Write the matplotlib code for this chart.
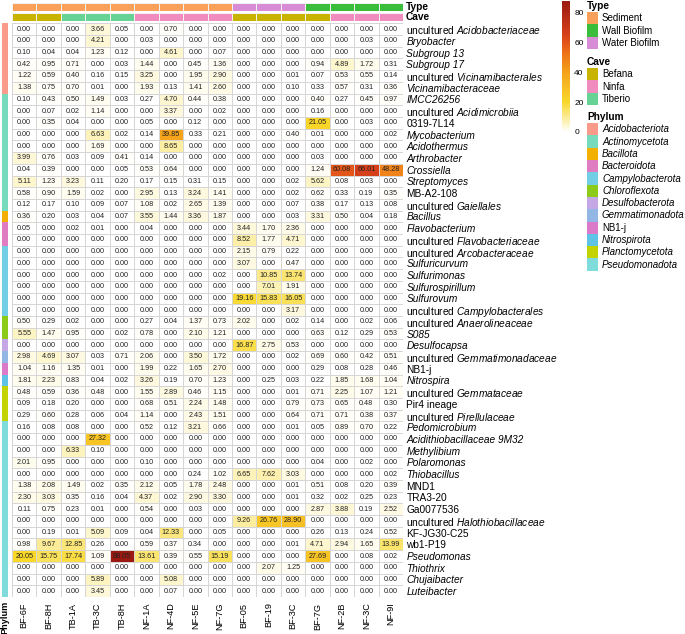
import numpy as np
import matplotlib
matplotlib.use("Agg")
import matplotlib.pyplot as plt
from matplotlib.colors import LinearSegmentedColormap, ListedColormap
from matplotlib.patches import Rectangle

plt.rcParams['font.family'] = ['Liberation Sans', 'DejaVu Sans']
plt.rcParams['mathtext.fontset'] = 'custom'
plt.rcParams['mathtext.rm'] = 'Liberation Sans'
plt.rcParams['mathtext.it'] = 'Liberation Sans:italic'

# ---- data ----
samples = ['BF-6F', 'BF-8H', 'TB-1A', 'TB-3C', 'TB-8H', 'NF-1A', 'NF-4D', 'NF-5E',
           'NF-7G', 'BF-05', 'BF-19', 'BF-3C', 'BF-7G', 'NF-2B', 'NF-3C', 'NF-9I']
sample_type = ['Sediment'] * 9 + ['Water Biofilm'] * 3 + ['Wall Biofilm'] * 4
sample_cave = ['Befana'] * 2 + ['Tiberio'] * 3 + ['Ninfa'] * 4 + ['Befana'] * 4 + ['Ninfa'] * 3

taxa = ['uncultured Acidobacteriaceae', 'Bryobacter', 'Subgroup 13', 'Subgroup 17',
        'uncultured Vicinamibacterales', 'Vicinamibacteraceae', 'IMCC26256',
        'uncultured Acidimicrobiia', '0319-7L14', 'Mycobacterium', 'Acidothermus',
        'Arthrobacter', 'Crossiella', 'Streptomyces', 'MB-A2-108', 'uncultured Gaiellales',
        'Bacillus', 'Flavobacterium', 'uncultured Flavobacteriaceae',
        'uncultured Arcobacteraceae', 'Sulfuricurvum', 'Sulfurimonas', 'Sulfurospirillum',
        'Sulfurovum', 'uncultured Campylobacterales', 'uncultured Anaerolineaceae', 'S085',
        'Desulfocapsa', 'uncultured Gemmatimonadaceae', 'NB1-j', 'Nitrospira',
        'uncultured Gemmataceae', 'Pir4 ineage', 'uncultured Pirellulaceae', 'Pedomicrobium',
        'Acidithiobacillaceae 9M32', 'Methylibium', 'Polaromonas', 'Thiobacillus', 'MND1',
        'TRA3-20', 'Ga0077536', 'uncultured Halothiobacillaceae', 'KF-JG30-C25', 'wb1-P19',
        'Pseudomonas', 'Thiothrix', 'Chujaibacter', 'Luteibacter']
roman_taxa = ['0319-7L14', 'MB-A2-108', 'NB1-j', 'Pir4 ineage', 'MND1', 'TRA3-20',
              'Ga0077536', 'KF-JG30-C25', 'wb1-P19']

taxa_phylum = (['Acidobacteriota'] * 6 + ['Actinomycetota'] * 10 + ['Bacillota']
               + ['Bacteroidota'] * 2 + ['Campylobacterota'] * 6 + ['Chloroflexota'] * 2
               + ['Desulfobacterota', 'Gemmatimonadota', 'NB1-j', 'Nitrospirota']
               + ['Planctomycetota'] * 3 + ['Pseudomonadota'] * 15)

abundance = [
    [0.00, 0.00, 0.00, 3.66, 0.05, 0.00, 0.70, 0.00, 0.00, 0.00, 0.00, 0.00, 0.00, 0.00, 0.00, 0.00],
    [0.00, 0.00, 0.00, 4.21, 0.00, 0.03, 0.00, 0.00, 0.00, 0.00, 0.00, 0.00, 0.00, 0.00, 0.03, 0.00],
    [0.10, 0.04, 0.04, 1.23, 0.12, 0.00, 4.61, 0.00, 0.07, 0.00, 0.00, 0.00, 0.00, 0.00, 0.00, 0.00],
    [0.42, 0.95, 0.71, 0.00, 0.03, 1.44, 0.00, 0.45, 1.36, 0.00, 0.00, 0.00, 0.94, 4.89, 1.72, 0.31],
    [1.22, 0.59, 0.40, 0.16, 0.15, 3.25, 0.00, 1.95, 2.90, 0.00, 0.00, 0.01, 0.07, 0.53, 0.55, 0.14],
    [1.38, 0.75, 0.70, 0.01, 0.00, 1.93, 0.13, 1.41, 2.60, 0.00, 0.00, 0.10, 0.33, 0.57, 0.31, 0.36],
    [0.10, 0.43, 0.50, 1.49, 0.03, 0.27, 4.70, 0.44, 0.38, 0.00, 0.00, 0.00, 0.40, 0.27, 0.45, 0.97],
    [0.00, 0.07, 0.02, 1.14, 0.00, 0.00, 3.37, 0.00, 0.02, 0.00, 0.00, 0.00, 0.16, 0.00, 0.00, 0.00],
    [0.00, 0.35, 0.04, 0.00, 0.00, 0.05, 0.00, 0.12, 0.00, 0.00, 0.00, 0.00, 21.05, 0.00, 0.03, 0.00],
    [0.00, 0.00, 0.00, 6.63, 0.02, 0.14, 39.85, 0.33, 0.21, 0.00, 0.00, 0.40, 0.01, 0.00, 0.00, 0.02],
    [0.00, 0.00, 0.00, 1.69, 0.00, 0.00, 8.65, 0.00, 0.00, 0.00, 0.00, 0.00, 0.00, 0.00, 0.00, 0.00],
    [3.99, 0.76, 0.03, 0.09, 0.41, 0.14, 0.00, 0.00, 0.00, 0.00, 0.00, 0.00, 0.03, 0.00, 0.00, 0.00],
    [0.04, 0.39, 0.00, 0.00, 0.05, 0.53, 0.64, 0.00, 0.00, 0.00, 0.00, 0.00, 1.24, 60.08, 66.01, 48.28],
    [5.11, 1.23, 3.23, 0.11, 0.20, 0.17, 0.15, 0.31, 0.15, 0.00, 0.00, 0.02, 5.62, 0.08, 0.03, 0.00],
    [0.58, 0.90, 1.59, 0.02, 0.00, 2.95, 0.13, 3.24, 1.41, 0.00, 0.00, 0.02, 0.62, 0.33, 0.19, 0.35],
    [0.12, 0.17, 0.10, 0.09, 0.07, 1.08, 0.02, 2.65, 1.39, 0.00, 0.00, 0.07, 0.38, 0.17, 0.13, 0.08],
    [0.36, 0.20, 0.03, 0.04, 0.07, 3.55, 1.44, 3.36, 1.87, 0.00, 0.00, 0.03, 3.31, 0.50, 0.04, 0.18],
    [0.05, 0.00, 0.02, 0.01, 0.00, 0.04, 0.00, 0.00, 0.00, 3.44, 1.70, 2.36, 0.00, 0.00, 0.00, 0.00],
    [0.00, 0.00, 0.00, 0.00, 0.00, 0.00, 0.00, 0.00, 0.00, 8.52, 1.77, 4.71, 0.00, 0.00, 0.00, 0.00],
    [0.00, 0.00, 0.00, 0.00, 0.00, 0.00, 0.00, 0.00, 0.00, 2.15, 0.79, 0.22, 0.00, 0.00, 0.00, 0.00],
    [0.00, 0.00, 0.00, 0.00, 0.00, 0.00, 0.00, 0.00, 0.00, 3.07, 0.00, 0.47, 0.00, 0.00, 0.00, 0.00],
    [0.00, 0.00, 0.00, 0.00, 0.00, 0.00, 0.00, 0.00, 0.02, 0.00, 10.85, 13.74, 0.00, 0.00, 0.00, 0.00],
    [0.00, 0.00, 0.00, 0.00, 0.00, 0.00, 0.00, 0.00, 0.00, 0.00, 7.01, 1.91, 0.00, 0.00, 0.00, 0.00],
    [0.00, 0.00, 0.00, 0.00, 0.00, 0.00, 0.00, 0.00, 0.00, 19.16, 15.83, 16.05, 0.00, 0.00, 0.00, 0.00],
    [0.00, 0.00, 0.00, 0.00, 0.00, 0.00, 0.00, 0.00, 0.00, 0.00, 0.00, 3.17, 0.00, 0.00, 0.00, 0.00],
    [0.50, 0.29, 0.02, 0.00, 0.00, 0.27, 0.04, 1.37, 0.73, 2.02, 0.00, 0.02, 0.14, 0.00, 0.02, 0.06],
    [5.55, 1.47, 0.95, 0.00, 0.02, 0.78, 0.00, 2.10, 1.21, 0.00, 0.00, 0.00, 0.63, 0.12, 0.29, 0.53],
    [0.00, 0.00, 0.00, 0.00, 0.00, 0.00, 0.00, 0.00, 0.00, 16.87, 2.75, 0.53, 0.00, 0.00, 0.00, 0.00],
    [2.98, 4.69, 3.07, 0.03, 0.71, 2.06, 0.00, 3.50, 1.72, 0.00, 0.00, 0.02, 0.69, 0.60, 0.42, 0.51],
    [1.04, 1.16, 1.35, 0.01, 0.00, 1.99, 0.22, 1.65, 2.70, 0.00, 0.00, 0.00, 0.29, 0.08, 0.28, 0.46],
    [1.81, 2.23, 0.83, 0.04, 0.02, 3.26, 0.19, 0.70, 1.23, 0.00, 0.25, 0.03, 0.22, 1.85, 1.68, 1.04],
    [0.48, 0.59, 0.36, 0.48, 0.00, 1.55, 2.89, 0.46, 1.15, 0.00, 0.00, 0.01, 0.71, 2.25, 1.07, 1.21],
    [0.09, 0.18, 0.20, 0.00, 0.00, 0.68, 0.51, 2.24, 1.48, 0.00, 0.00, 0.79, 0.73, 0.65, 0.48, 0.30],
    [0.29, 0.60, 0.28, 0.06, 0.04, 1.14, 0.00, 2.43, 1.51, 0.00, 0.00, 0.64, 0.71, 0.71, 0.38, 0.37],
    [0.16, 0.08, 0.08, 0.00, 0.00, 0.52, 0.12, 3.21, 0.66, 0.00, 0.00, 0.01, 0.05, 0.89, 0.70, 0.22],
    [0.00, 0.00, 0.00, 27.32, 0.00, 0.00, 0.00, 0.00, 0.00, 0.00, 0.00, 0.00, 0.00, 0.00, 0.00, 0.00],
    [0.00, 0.00, 6.33, 0.10, 0.00, 0.00, 0.00, 0.00, 0.00, 0.00, 0.00, 0.00, 0.00, 0.00, 0.00, 0.00],
    [2.01, 0.95, 0.00, 0.00, 0.00, 0.10, 0.00, 0.00, 0.00, 0.00, 0.00, 0.00, 0.04, 0.00, 0.02, 0.00],
    [0.00, 0.00, 0.00, 0.00, 0.00, 0.00, 0.00, 0.24, 1.02, 6.65, 7.62, 3.03, 0.00, 0.00, 0.00, 0.02],
    [1.38, 2.08, 1.49, 0.02, 0.35, 2.12, 0.05, 1.78, 2.48, 0.00, 0.00, 0.01, 0.51, 0.08, 0.20, 0.39],
    [2.30, 3.03, 0.35, 0.16, 0.04, 4.37, 0.02, 2.90, 3.30, 0.00, 0.00, 0.01, 0.32, 0.02, 0.25, 0.23],
    [0.11, 0.75, 0.23, 0.01, 0.00, 0.54, 0.00, 0.03, 0.00, 0.00, 0.00, 0.00, 2.87, 3.88, 0.19, 2.52],
    [0.00, 0.00, 0.00, 0.00, 0.00, 0.00, 0.00, 0.00, 0.00, 9.26, 26.76, 28.90, 0.00, 0.00, 0.00, 0.00],
    [0.00, 0.19, 0.01, 5.09, 0.09, 0.04, 12.33, 0.00, 0.05, 0.00, 0.00, 0.00, 0.26, 0.13, 0.24, 0.52],
    [0.98, 9.67, 12.85, 0.26, 0.00, 0.59, 0.37, 0.34, 0.00, 0.00, 0.00, 0.01, 4.71, 2.94, 1.65, 13.99],
    [20.05, 15.75, 17.74, 1.09, 88.05, 13.61, 0.39, 0.55, 15.19, 0.00, 0.00, 0.00, 27.69, 0.00, 0.08, 0.02],
    [0.00, 0.00, 0.00, 0.00, 0.00, 0.00, 0.00, 0.00, 0.00, 0.00, 2.07, 1.25, 0.00, 0.00, 0.00, 0.00],
    [0.00, 0.00, 0.00, 5.89, 0.00, 0.00, 5.08, 0.00, 0.00, 0.00, 0.00, 0.00, 0.00, 0.00, 0.00, 0.00],
    [0.00, 0.00, 0.00, 3.45, 0.00, 0.00, 0.07, 0.00, 0.00, 0.00, 0.00, 0.00, 0.00, 0.00, 0.00, 0.00],
]

type_colors = {'Sediment': '#F9A05A', 'Wall Biofilm': '#3BBD3C', 'Water Biofilm': '#D98CD6'}
cave_colors = {'Befana': '#C8B400', 'Ninfa': '#F08CBE', 'Tiberio': '#66D294'}
phylum_colors = {
    'Acidobacteriota': '#F99A8B', 'Actinomycetota': '#76DABD', 'Bacillota': '#F2B000',
    'Bacteroidota': '#E07CC2', 'Campylobacterota': '#72CEE4', 'Chloroflexota': '#8DCB1A',
    'Desulfobacterota': '#C4A7E4', 'Gemmatimonadota': '#93B7E4', 'NB1-j': '#DA7AC8',
    'Nitrospirota': '#5FC3E8', 'Planctomycetota': '#C3D300', 'Pseudomonadota': '#80DCDA',
}

# ---- figure ----
W, H = 685, 634
fig = plt.figure(figsize=(W / 100, H / 100), dpi=100)


def box(x0, y0, x1, y1):
    return [x0 / W, 1 - y1 / H, (x1 - x0) / W, (y1 - y0) / H]


vals = np.array(abundance)
nrow, ncol = vals.shape
vmax = vals.max()
cmap = LinearSegmentedColormap.from_list('heat', [
    (0.0, '#FFFFFF'), (20 / vmax, '#F9D82A'), (40 / vmax, '#F5A31C'),
    (55 / vmax, '#EC6A18'), (65 / vmax, '#D8421A'), (1.0, '#9A1A12')])

hx0, hx1, hy0, hy1 = 12, 403, 23.3, 597
ax = fig.add_axes(box(hx0, hy0, hx1, hy1))
ax.pcolormesh(vals, cmap=cmap, vmin=0, vmax=vmax, edgecolors='#d6d6d6', linewidth=0.6)
ax.set_xlim(0, ncol)
ax.set_ylim(nrow, 0)
for i in range(nrow):
    for j in range(ncol):
        ax.text(j + 0.5, i + 0.5, f'{vals[i, j]:.2f}', ha='center', va='center',
                fontsize=5.2, color='#222222')
for s in ax.spines.values():
    s.set_visible(False)


def fmt_taxon(name):
    if name.startswith('uncultured '):
        rest = name[len('uncultured '):].replace(' ', r'\ ')
        return 'uncultured $\\mathit{' + rest + '}$'
    return name


ax.yaxis.tick_right()
ax.set_yticks(np.arange(nrow) + 0.5)
ax.set_yticklabels([fmt_taxon(t) for t in taxa], fontsize=7.3)
for lbl, t in zip(ax.get_yticklabels(), taxa):
    if not t.startswith('uncultured ') and t not in roman_taxa:
        lbl.set_fontstyle('italic')
ax.set_xticks(np.arange(ncol) + 0.5)
ax.set_xticklabels(samples, rotation=90, fontsize=6.6)
ax.tick_params(length=0, pad=2.5, axis='y')
ax.tick_params(length=0, pad=4, axis='x')

# annotation bars
type_names = list(type_colors)
cave_names = list(cave_colors)
phy_names = list(phylum_colors)

ax_t = fig.add_axes(box(hx0, 3.3, hx1, 11))
ax_t.pcolormesh([[type_names.index(t) for t in sample_type]],
                cmap=ListedColormap(list(type_colors.values())), vmin=-0.5,
                vmax=len(type_names) - 0.5, edgecolors='#f2f2f2', linewidth=0.6)
ax_c = fig.add_axes(box(hx0, 13.3, hx1, 20.8))
ax_c.pcolormesh([[cave_names.index(c) for c in sample_cave]],
                cmap=ListedColormap(list(cave_colors.values())), vmin=-0.5,
                vmax=len(cave_names) - 0.5, edgecolors='#f2f2f2', linewidth=0.6)
ax_p = fig.add_axes(box(1.7, hy0, 8.5, hy1))
ax_p.pcolormesh(np.array([[phy_names.index(p)] for p in taxa_phylum]),
                cmap=ListedColormap(list(phylum_colors.values())), vmin=-0.5,
                vmax=len(phy_names) - 0.5)
ax_p.set_ylim(nrow, 0)
for a in (ax_t, ax_c, ax_p):
    a.set_xticks([])
    a.set_yticks([])
    for s in a.spines.values():
        s.set_visible(False)

# colorbar
ax_cb = fig.add_axes(box(562, 1, 570, 132))
grad = np.linspace(0, vmax, 256).reshape(-1, 1)
ax_cb.imshow(grad, cmap=cmap, aspect='auto', origin='lower', extent=[0, 1, 0, vmax])
ax_cb.set_xticks([])
ax_cb.yaxis.tick_right()
ax_cb.set_yticks([0, 20, 40, 60, 80])
ax_cb.tick_params(length=0, pad=3, labelsize=6)
for s in ax_cb.spines.values():
    s.set_visible(False)

# overlay for legends and labels
ov = fig.add_axes([0, 0, 1, 1])
ov.set_xlim(0, W)
ov.set_ylim(H, 0)
ov.axis('off')
ov.text(406, 7.2, 'Type', fontsize=7.3, fontweight='bold', va='center')
ov.text(406, 17, 'Cave', fontsize=7.3, fontweight='bold', va='center')
ov.text(5, 601, 'Phylum', fontsize=6.6, fontweight='bold', rotation=90,
        ha='center', va='top')

step = 12.3


def legend_block(title, colors, y_title, italic=False):
    ov.text(587, y_title, title, fontsize=7.3, fontweight='bold', va='center')
    for k, (name, col) in enumerate(colors.items()):
        yc = y_title + step * (k + 1)
        ov.add_patch(Rectangle((587, yc - step / 2), 11, step, facecolor=col,
                               edgecolor='none'))
        style = 'italic' if italic and name != 'NB1-j' else 'normal'
        ov.text(602, yc, name, fontsize=7, va='center', fontstyle=style)


legend_block('Type', type_colors, 6)
legend_block('Cave', cave_colors, 62)
legend_block('Phylum', phylum_colors, 117, italic=True)

fig.savefig('out.png', dpi=100)
